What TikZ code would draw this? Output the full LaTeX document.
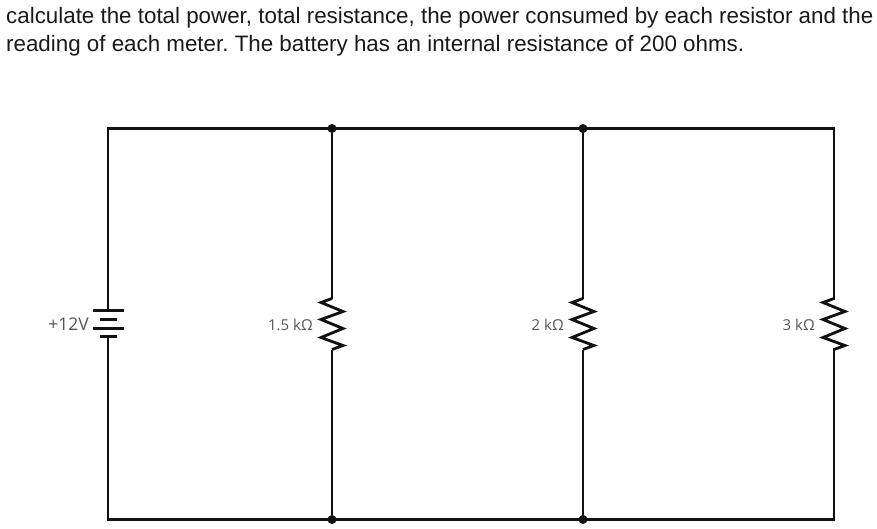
\documentclass[tikz,border=0pt]{standalone}
\usepackage{fontspec}
\setmainfont{Liberation Sans}
\newfontfamily\partfont{Open Sans}
\definecolor{labelgray}{HTML}{555555}
\definecolor{wireblack}{HTML}{111111}
\tikzset{
  wire/.style={line width=2.8pt,color=wireblack},
  plate/.style={line width=2.8pt,color=wireblack},
  joint/.style={circle,fill=wireblack,inner sep=0pt,minimum size=9pt},
  partlabel/.style={text=labelgray,font=\partfont\fontsize{15}{17}\selectfont,inner sep=0pt,anchor=east},
  question/.style={text=black!90,font=\fontsize{22.35}{27}\selectfont,inner sep=0pt,anchor=base west}
}
\newcommand{\zigzag}[2]{%
  \draw[wire,line join=miter] (#1) -- ++(-11,4) -- ++(22,9) -- ++(-22,8) -- ++(22,9)
    -- ++(-22,9) -- ++(22,8) -- (#2);}
\frenchspacing
\begin{document}
\begin{tikzpicture}[x=1pt,y=-1pt]
  \useasboundingbox (0,-0.5) rectangle (877,528.5);
  \node[question] (line1) at (6,23.5) {calculate the total power, total resistance, the power consumed by each resistor and the};
  \node[question] (line2) at (6,51.5) {reading of each meter. The battery has an internal resistance of 200 ohms.};
  % corners and junctions
  \draw
    (108,128) coordinate (tl)
    (108,519) coordinate (bl)
    (834,128) coordinate (tr)
    (834,519) coordinate (br);
  \node[joint] (t1) at (332,128) {};
  \node[joint] (t2) at (583,128) {};
  \node[joint] (b1) at (332,519) {};
  \node[joint] (b2) at (583,519) {};
  % battery
  \draw
    (108,310) coordinate (battp)
    (108,336) coordinate (battn);
  \draw[plate] (93,310) -- (124,310);
  \draw[plate] (100,319) -- (117,319);
  \draw[plate] (93,328) -- (124,328);
  \draw[plate] (100,336) -- (117,336);
  % resistor ends
  \draw
    (332,298) coordinate (r1a)
    (332,349) coordinate (r1b)
    (583,298) coordinate (r2a)
    (583,349) coordinate (r2b)
    (834,298) coordinate (r3a)
    (834,349) coordinate (r3b);
  \begin{scope}[wire]
    \draw[line cap=rect] (battp) -- (tl) -- (tr) -- (r3a);
    \draw[line cap=rect] (battn) -- (bl) -- (br) -- (r3b);
    \draw (t1) -- (r1a);
    \draw (t2) -- (r2a);
    \draw (b1) -- (r1b);
    \draw (b2) -- (r2b);
  \end{scope}
  \zigzag{r1a}{r1b}
  \zigzag{r2a}{r2b}
  \zigzag{r3a}{r3b}
  % labels
  \node[partlabel,font=\partfont\fontsize{17.5}{20}\selectfont] (vlabel) at (89,324) {+12V};
  \node[partlabel] (r1label) at (313,324) {1.5 kΩ};
  \node[partlabel] (r2label) at (564,324) {2 kΩ};
  \node[partlabel] (r3label) at (815,324) {3 kΩ};
\end{tikzpicture}
\end{document}
